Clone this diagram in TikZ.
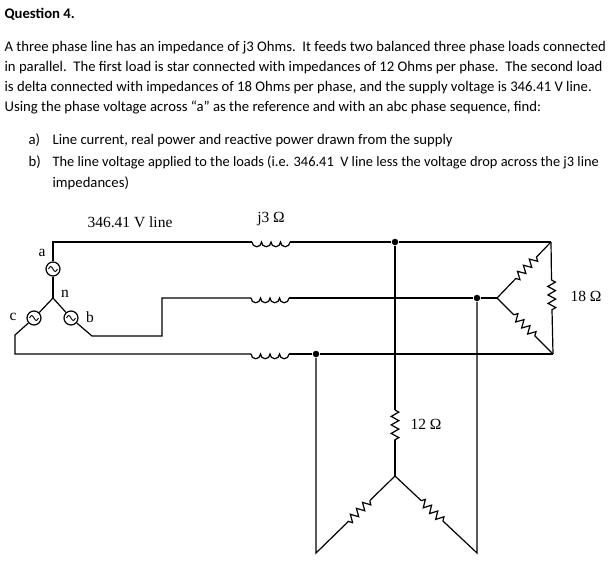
\documentclass[tikz,border=0pt]{standalone}
\usepackage{fontspec}
\setmainfont{Carlito}
\newfontfamily\serifx{Liberation Serif}
\usetikzlibrary{decorations.pathmorphing,calc}
\begin{document}
\begin{tikzpicture}[x=1pt,y=-1pt,line width=1.2pt,
  txt/.style={anchor=base west,inner sep=0pt,font=\fontsize{14.7}{16}\selectfont},
  lbl/.style={inner sep=0pt,font=\serifx\fontsize{15.5}{17}\selectfont},
  dot/.style={circle,fill,inner sep=0pt,minimum size=6.5pt},
  zz/.style={decorate,decoration={zigzag,amplitude=3.8pt,segment length=8.5pt}}]
\useasboundingbox (0,0) rectangle (609,562);
% text
\node[txt,font=\bfseries\fontsize{14.7}{16}\selectfont] (t0) at (4,18) {Question 4.};
\node[txt] (t1) at (4,51) {A three phase line has an impedance of j3 Ohms.\ \ It feeds two balanced three phase loads connected};
\node[txt] (t2) at (4,71) {in parallel.\ \ The first load is star connected with impedances of 12 Ohms per phase.\ \ The second load};
\node[txt] (t3) at (4,91) {is delta connected with impedances of 18 Ohms per phase, and the supply voltage is 346.41 V line.};
\node[txt] (t4) at (4,111) {Using the phase voltage across “a” as the reference and with an abc phase sequence, find:};
\node[txt] (ta) at (28,144) {a)};
\node[txt] (ta2) at (52,144) {Line current, real power and reactive power drawn from the supply};
\node[txt] (tb) at (28,166) {b)};
\node[txt,font=\fontsize{14.4}{16}\selectfont] (tb2) at (52,166) {The line voltage applied to the loads (i.e. 346.41\ \ V line less the voltage drop across the j3 line};
\node[txt] (tb3) at (52,187) {impedances)};
% coordinates
\coordinate (aT) at (53,242);
\coordinate (n) at (53,298);
\coordinate (bE) at (92,336);
\coordinate (b1) at (162,336);
\coordinate (b2) at (162,298);
\coordinate (cE) at (15,335);
\coordinate (c1) at (15,354);
\coordinate (L1a) at (252,242); \coordinate (L1b) at (290,242);
\coordinate (L2a) at (251,298); \coordinate (L2b) at (289,298);
\coordinate (L3a) at (251,354); \coordinate (L3b) at (289,354);
\node[dot] (dA) at (395,242) {};
\node[dot] (dB) at (477,298) {};
\node[dot] (dC) at (316,354) {};
\coordinate (dT) at (551,242);
\coordinate (dL) at (497,298);
\coordinate (dBt) at (553,354);
\coordinate (sc) at (395,476);
\coordinate (sl) at (316,553);
\coordinate (sr) at (477,553);
% sources
\foreach \n/\x/\y in {sa/53/269,sb/71/318,sc2/34/318}{
  \node[circle,draw,minimum size=14pt,inner sep=0pt] (\n) at (\x,\y) {};
  \draw[line width=0.9pt] (\x-4.5,\y) sin (\x-2.25,\y-2.5) cos (\x,\y) sin (\x+2.25,\y+2.5) cos (\x+4.5,\y);
}
% source wiring
\draw (sa) -- (aT) -- (L1a);
\draw (sa) -- (n);
\draw (n) -- (sb); \draw (sb) -- (bE) -- (b1) -- (b2) -- (L2a);
\draw (n) -- (sc2); \draw (sc2) -- (cE) -- (c1) -- (L3a);
% inductors
\foreach \s in {L1a,L2a,L3a}{
  \draw (\s) arc[start angle=180,end angle=0,radius=4.75] arc[start angle=180,end angle=0,radius=4.75] arc[start angle=180,end angle=0,radius=4.75] arc[start angle=180,end angle=0,radius=4.75];
}
\draw (L1b) -- (dA) -- (dT);
\draw (L2b) -- (dB) -- (dL);
\draw (L3b) -- (dC) -- (dBt);
% delta
\draw (dT) -- ($(dT)!0.27!(dL)$) coordinate (p1);
\draw[zz] (p1) -- ($(dT)!0.68!(dL)$) coordinate (p2);
\draw (p2) -- (dL);
\draw (dL) -- ($(dL)!0.3!(dBt)$) coordinate (p3);
\draw[zz] (p3) -- ($(dL)!0.72!(dBt)$) coordinate (p4);
\draw (p4) -- (dBt);
\draw (dT) -- (551.5,280) coordinate (p5);
\draw[zz] (p5) -- (552,310) coordinate (p6);
\draw (p6) -- (dBt);
% star
\draw (dA) -- (395,410) coordinate (q1);
\draw[zz] (q1) -- (395,440) coordinate (q2);
\draw (q2) -- (sc);
\draw (sc) -- ($(sc)!0.32!(sl)$) coordinate (q3);
\draw[zz] (q3) -- ($(sc)!0.62!(sl)$) coordinate (q4);
\draw (q4) -- (sl) -- (dC);
\draw (sc) -- ($(sc)!0.32!(sr)$) coordinate (q5);
\draw[zz] (q5) -- ($(sc)!0.62!(sr)$) coordinate (q6);
\draw (q6) -- (sr) -- (dB);
% labels
\node[lbl] (l1) at (130,222) {346.41 V line};
\node[lbl] (l2) at (271,219) {j3 Ω};
\node[lbl] (l3) at (42,253) {a};
\node[lbl] (l4) at (65,294) {n};
\node[lbl] (l5) at (90,317) {b};
\node[lbl] (l6) at (13,317) {c};
\node[lbl] (l7) at (426,424) {12 Ω};
\node[lbl] (l8) at (586,296) {18 Ω};
\end{tikzpicture}
\end{document}
